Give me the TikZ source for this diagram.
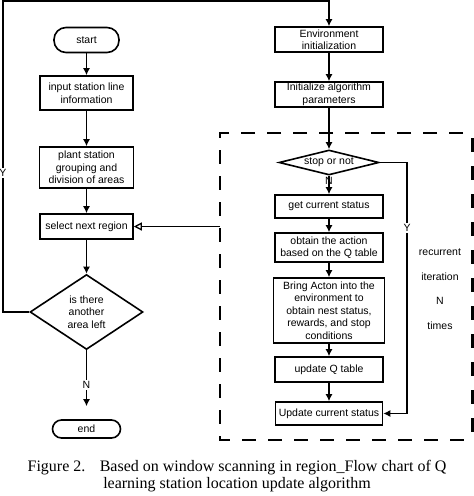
\documentclass[tikz,border=0pt]{standalone}
\usepackage{fontspec}
\setmainfont{Liberation Serif}
\setsansfont{Liberation Sans}
\usetikzlibrary{shapes.geometric,arrows.meta}

\begin{document}
\begin{tikzpicture}[x=1pt,y=-1pt,
	font=\sffamily\fontsize{10.5}{12.5}\selectfont,
	line width=1.3pt,
	>={Latex[length=7pt,width=7pt]},
	box/.style={rectangle,draw,line width=1.6pt,align=center,inner sep=1pt,minimum width=108pt},
	term/.style={rectangle,draw,line width=1.6pt,rounded corners=9pt},
	decision/.style={diamond,draw,line width=1.6pt,align=center,inner sep=0pt},
	lbl/.style={fill=white,inner sep=1.5pt}]
	\useasboundingbox (0,0) rectangle (474,496);

	% left column
	\node [term,minimum width=65pt,minimum height=25pt,rounded corners=12pt] (start) at (86.5,40) {start};
	\node [box,minimum width=93pt,minimum height=34pt] (input) at (86.5,93) {input station line\\information};
	\node [box,minimum width=94pt,minimum height=41pt] (plant) at (86.5,167.5) {plant station\\grouping and\\division of areas};
	\node [box,minimum width=93pt,minimum height=25pt] (select) at (86.5,226.5) {select next region};
	\node [decision,shape aspect=1.5,minimum width=113pt,minimum height=75pt] (another) at (86.5,312) {is there\\another\\area left};
	\node [term,minimum width=68pt,minimum height=18pt] (end) at (86.5,429) {end};

	% right column
	\node [box,minimum height=25pt] (env) at (329,39.5) {Environment\\initialization};
	\node [box,minimum height=25pt] (param) at (329,94.5) {Initialize algorithm\\parameters};
	\node [decision,shape aspect=4,minimum width=100pt,minimum height=25pt] (stop) at (329,162.5) {stop or not};
	\node [box,minimum height=23pt] (status) at (329,206.5) {get current status};
	\node [box,minimum height=29pt] (action) at (329,247.5) {obtain the action\\based on the Q table};
	\node [box,minimum width=111pt,minimum height=65pt] (bring) at (329,310.5) {Bring Acton into the\\environment to\\obtain nest status,\\rewards, and stop\\conditions};
	\node [box,minimum height=25pt] (qtable) at (329,369.5) {update Q table};
	\node [box,minimum width=107pt,minimum height=23pt] (current) at (329,413.5) {Update current status};
	\node [align=center,font=\sffamily\fontsize{10.5}{24.5}\selectfont] (times) at (440,289) {recurrent\\iteration\\N\\times};

	% loop frame
	\draw [dash pattern=on 14pt off 12pt,line width=1.5pt] (463,133) -- (220,133) -- (220,440) -- (470,440);
	\draw [dash pattern=on 14pt off 14pt,line width=3pt] (472.5,138) -- (472.5,440);

	\coordinate (outer) at (3,1);
	\coordinate (frame) at (220,226.5);
	\coordinate (turn) at (407,413.5);

	% connectors
	\draw [->] (start) -- (input);
	\draw [->] (input) -- (plant);
	\draw [->] (plant) -- (select);
	\draw [->] (select) -- (another);
	\draw [->,shorten >=13pt] (another) -- node [lbl] (nleft) {N} (end);
	\draw [->] (another.west) -| (outer) -| (env.north);
	\node [lbl] (yleft) at (3,173) {Y};
	\draw [-{Triangle[open,length=8pt,width=8pt]}] (frame) -- (select.east);

	\draw [->] (env) -- (param);
	\draw [->] (param) -- (stop);
	\draw [->] (stop) -- node [pos=0.25] (nright) {N} (status);
	\draw [->] (status) -- (action);
	\draw [->] (action) -- (bring);
	\draw [->] (bring) -- (qtable);
	\draw [->] (qtable) -- (current);
	\draw [->] (stop.east) -| (turn) -- (current.east);
	\node [lbl] (yright) at (407,228) {Y};

	\node [font=\rmfamily\fontsize{16}{17}\selectfont,align=center] (caption) at (237,476) {Figure 2.\hspace{0.9em}Based on window scanning in region\_Flow chart of Q\\learning station location update algorithm};
\end{tikzpicture}
\end{document}
